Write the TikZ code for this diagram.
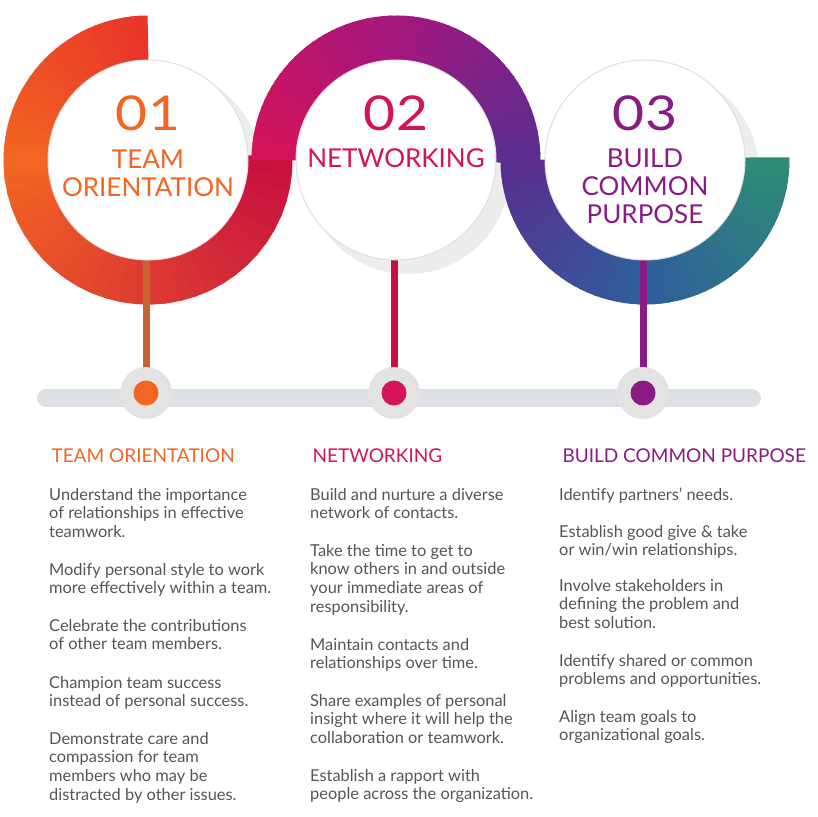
\documentclass[tikz,border=0pt]{standalone}
\usepackage{fontspec}
\setmainfont{Lato}
\definecolor{cOr}{HTML}{F26522}
\definecolor{cRed}{HTML}{E8342A}
\definecolor{cCrim}{HTML}{C8113F}
\definecolor{cPink}{HTML}{D4145A}
\definecolor{cMag}{HTML}{A4177D}
\definecolor{cPur}{HTML}{8A1A84}
\definecolor{cVio}{HTML}{5A2D8F}
\definecolor{cBlue}{HTML}{2F5E9C}
\definecolor{cTeal}{HTML}{2E8C76}
\definecolor{txt}{HTML}{555555}
\definecolor{bar}{HTML}{DDE1E6}
\newcommand\seg[6]{\foreach \i in {0,...,29}{%
 \pgfmathsetmacro\aa{#3+(#4-#3)*\i/30}%
 \pgfmathsetmacro\bb{#3+(#4-#3)*(\i+1.4)/30}%
 \pgfmathtruncatemacro\p{100-100*\i/29}%
 \draw[line width=45pt, draw=#5!\p!#6] ([shift={(\aa:122)}]#1,#2) arc[start angle=\aa,end angle=\bb,radius=122];}}
\tikzset{
 wc/.style={circle,minimum size=200pt,fill=white,draw=gray!25,line width=1pt,inner sep=0},
 num/.style={font=\fontsize{48}{48}\selectfont\addfontfeature{FakeStretch=1.15}},
 ttl/.style={font=\fontsize{26}{28}\selectfont,align=center},
 head/.style={anchor=base west,font=\fontsize{19}{22}\selectfont},
 body/.style={anchor=north west,align=left,inner sep=0,text=txt,font=\fontsize{16.4}{18.6}\selectfont},
 stem/.style={line width=7pt},
 halo/.style={circle,fill=gray!22,minimum size=52pt,inner sep=0},
 dot/.style={circle,minimum size=25pt,inner sep=0}
}
\begin{document}
\begin{tikzpicture}[x=1pt,y=-1pt]
\useasboundingbox (0,0) rectangle (817,817);
% shadows
\foreach \c in {148,396,645}{\fill[black,opacity=.07] (\c+12,172) circle[radius=102];}
% ribbon
\seg{148}{160}{270}{180}{cRed}{cOr}
\seg{148}{160}{180}{0}{cOr}{cCrim}
\seg{396}{160}{180}{270}{cPink}{cMag}
\seg{396}{160}{270}{360}{cMag}{cVio}
\seg{645}{160}{180}{90}{cVio}{cBlue}
\seg{645}{160}{90}{0}{cBlue}{cTeal}
% stems
\draw[stem,draw=cOr!80!black!90] (146,258) -- (146,393);
\draw[stem,draw=cCrim] (394,258) -- (394,393);
\draw[stem,draw=cPur] (643,258) -- (643,393);
% bar
\draw[line width=18pt,draw=bar,line cap=round] (46,398) -- (752,398);
\node[halo] (h1) at (146,393) {}; \node[dot,fill=cOr] (d1) at (h1) {};
\node[halo] (h2) at (394,393) {}; \node[dot,fill=cPink] (d2) at (h2) {};
\node[halo] (h3) at (643,393) {}; \node[dot,fill=cPur] (d3) at (h3) {};
% circles
\node[wc] (c1) at (148,160) {};
\node[wc] (c2) at (396,160) {};
\node[wc] (c3) at (645,160) {};
\node[num,text=cOr] (n1) at (148,113) {01};
\node[ttl,text=cOr] (t1) at (148,173) {TEAM\\ORIENTATION};
\node[num,text=cPink] (n2) at (396,113) {02};
\node[ttl,text=cPink] (t2) at (396,158) {NETWORKING};
\node[num,text=cPur] (n3) at (645,113) {03};
\node[ttl,text=cPur] (t3) at (645,186) {BUILD\\COMMON\\PURPOSE};
% headings
\node[head,text=cOr] (H1) at (48,462) {TEAM ORIENTATION};
\node[head,text=cPink] (H2) at (309,462) {NETWORKING};
\node[head,text=cPur] (H3) at (559,462) {BUILD COMMON PURPOSE};
% column 1
\node[body] (a1) at (49,488) {Understand the importance\\of relationships in effective\\teamwork.};
\node[body] (a2) at (49,563) {Modify personal style to work\\more effectively within a team.};
\node[body] (a3) at (49,619) {Celebrate the contributions\\of other team members.};
\node[body] (a4) at (49,676) {Champion team success\\instead of personal success.};
\node[body] (a5) at (49,732) {Demonstrate care and\\compassion for team\\members who may be\\distracted by other issues.};
% column 2
\node[body] (b1) at (310,488) {Build and nurture a diverse\\network of contacts.};
\node[body] (b2) at (310,544) {Take the time to get to\\know others in and outside\\your immediate areas of\\responsibility.};
\node[body] (b3) at (310,638) {Maintain contacts and\\relationships over time.};
\node[body] (b4) at (310,694) {Share examples of personal\\insight where it will help the\\collaboration or teamwork.};
\node[body] (b5) at (310,769) {Establish a rapport with\\people across the organization.};
% column 3
\node[body] (e1) at (559,488) {Identify partners’ needs.};
\node[body] (e2) at (559,525) {Establish good give \& take\\or win/win relationships.};
\node[body] (e3) at (559,579) {Involve stakeholders in\\defining the problem and\\best solution.};
\node[body] (e4) at (559,654) {Identify shared or common\\problems and opportunities.};
\node[body] (e5) at (559,710) {Align team goals to\\organizational goals.};
\end{tikzpicture}
\end{document}
